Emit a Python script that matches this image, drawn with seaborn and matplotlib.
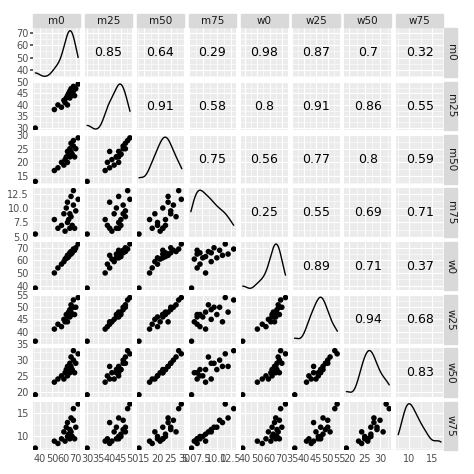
import numpy as np
import pandas as pd
import seaborn as sns
import matplotlib.pyplot as plt
from matplotlib.patches import Rectangle
from matplotlib.ticker import AutoMinorLocator

names = ["m0", "m25", "m50", "m75", "w0", "w25", "w50", "w75"]
m0 = [36, 52, 55, 58, 60, 61, 62, 63, 63, 64, 65, 65, 66, 66, 67, 68, 68, 69, 70, 72]
m25 = [30, 38, 40, 39, 42, 41, 43, 44, 40, 45, 43, 46, 44, 47, 45, 46, 48, 44, 47, 49]
m50 = [13, 17, 18, 20, 19, 21, 22, 20, 24, 23, 22, 25, 24, 27, 23, 26, 28, 22, 25, 29]
m75 = [5.5, 8, 6.5, 7, 9, 6, 10, 7.5, 11, 8, 6.5, 9, 12, 8.5, 7, 10.5, 13, 6.5, 9.5, 11.5]
w0 = [38, 50, 54, 57, 59, 61, 62, 62, 64, 63, 65, 66, 65, 67, 66, 68, 69, 68, 70, 73]
w25 = [36, 41, 43, 42, 45, 44, 47, 46, 44, 48, 46, 49, 48, 51, 47, 50, 53, 47, 50, 54]
w50 = [19, 23, 24, 25, 24, 26, 27, 25, 28, 27, 26, 29, 28, 31, 27, 30, 33, 26, 29, 32]
w75 = [7.5, 9, 8.5, 9.5, 11, 9, 12, 10, 13, 10.5, 9.5, 11.5, 14, 11, 10, 13.5, 16, 9.5, 12, 17]

# correlations as printed in the upper panels (row, col)
corr_text = {
    (0, 1): "0.85", (0, 2): "0.64", (0, 3): "0.29", (0, 4): "0.98", (0, 5): "0.87", (0, 6): "0.7", (0, 7): "0.32",
    (1, 2): "0.91", (1, 3): "0.58", (1, 4): "0.8", (1, 5): "0.91", (1, 6): "0.86", (1, 7): "0.55",
    (2, 3): "0.75", (2, 4): "0.56", (2, 5): "0.77", (2, 6): "0.8", (2, 7): "0.59",
    (3, 4): "0.25", (3, 5): "0.55", (3, 6): "0.69", (3, 7): "0.71",
    (4, 5): "0.89", (4, 6): "0.71", (4, 7): "0.37",
    (5, 6): "0.94", (5, 7): "0.68",
    (6, 7): "0.83",
}
ticks = {
    "m0": [40, 50, 60, 70], "m25": [30, 35, 40, 45, 50], "m50": [15, 20, 25, 30],
    "m75": [5.0, 7.5, 10.0, 12.5], "w0": [40, 50, 60, 70], "w25": [35, 40, 45, 50, 55],
    "w50": [20, 25, 30], "w75": [10, 15],
}

df = pd.DataFrame(dict(zip(names, [m0, m25, m50, m75, w0, w25, w50, w75])))

sns.set_theme(style="darkgrid", rc={"axes.facecolor": "#EBEBEB", "grid.color": "white",
                                     "xtick.labelsize": 7, "ytick.labelsize": 7})
plt.rcParams['font.family'] = ['DejaVu Sans']

n = len(names)
fig, axes = plt.subplots(n, n, figsize=(4.74, 4.74), dpi=100)
fig.subplots_adjust(left=0.07, right=0.935, top=0.94, bottom=0.05, wspace=0.1, hspace=0.1)

def lims(v):
    lo, hi = df[v].min(), df[v].max()
    pad = (hi - lo) * 0.05
    return lo - pad, hi + pad

for i, yv in enumerate(names):
    for j, xv in enumerate(names):
        ax = axes[i, j]
        ax.set_xlim(*lims(xv))
        ax.set_ylim(*lims(yv))
        ax.set_xticks(ticks[xv])
        ax.set_yticks(ticks[yv])
        ax.xaxis.set_minor_locator(AutoMinorLocator(2))
        ax.yaxis.set_minor_locator(AutoMinorLocator(2))
        ax.grid(which="major", color="white", lw=0.8)
        ax.grid(which="minor", color="white", lw=0.4)
        for s in ax.spines.values():
            s.set_visible(False)
        ax.tick_params(length=2, pad=1, colors="#4D4D4D", which="major")
        ax.tick_params(which="minor", length=0)
        if i < j:
            ax.text(0.5, 0.5, corr_text[(i, j)], transform=ax.transAxes,
                    ha="center", va="center", fontsize=9, color="black")
        elif i == j:
            ax2 = ax.twinx()
            sns.kdeplot(x=df[xv], ax=ax2, color="black", lw=1, cut=0, bw_adjust=0.8)
            ax2.set_ylim(bottom=0)
            ax2.set_yticks([])
            ax2.set_ylabel("")
            ax2.grid(False)
            for s in ax2.spines.values():
                s.set_visible(False)
            ax2.set_xlim(*lims(xv))
        else:
            sns.scatterplot(x=df[xv], y=df[yv], ax=ax, color="black", s=16, edgecolor="none")
        ax.set_xlabel("")
        ax.set_ylabel("")
        if i != n - 1:
            ax.set_xticklabels([])
            ax.tick_params(axis="x", length=0)
        if j != 0:
            ax.set_yticklabels([])
            ax.tick_params(axis="y", length=0)
        if i == 0:
            ax.add_patch(Rectangle((0, 1.02), 1, 0.28, transform=ax.transAxes,
                                   color="#D9D9D9", clip_on=False))
            ax.text(0.5, 1.16, xv, transform=ax.transAxes, ha="center", va="center",
                    fontsize=7.5, color="#1A1A1A")
        if j == n - 1:
            ax.add_patch(Rectangle((1.02, 0), 0.28, 1, transform=ax.transAxes,
                                   color="#D9D9D9", clip_on=False))
            ax.text(1.16, 0.5, yv, transform=ax.transAxes, ha="center", va="center",
                    fontsize=7.5, rotation=-90, color="#1A1A1A")

fig.savefig("out.png", dpi=100)
